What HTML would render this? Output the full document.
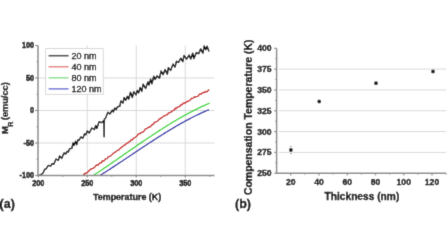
<!DOCTYPE html>
<html><head><meta charset="utf-8"><style>
html,body{margin:0;padding:0;background:#fff;}
body{width:448px;height:252px;overflow:hidden;}
svg{display:block;}
text{font-family:'Liberation Sans', Arial, sans-serif;fill:#000;}
.tk{font-size:7.3px;font-weight:bold;stroke:#000;stroke-width:0.35px;}
.tk2{font-size:8.6px;font-weight:bold;stroke:#000;stroke-width:0.3px;}
.lg{font-size:9px;stroke:#000;stroke-width:0.3px;}
.al{font-size:9.2px;font-weight:bold;stroke:#000;stroke-width:0.35px;}
.al2{font-size:10.2px;font-weight:bold;stroke:#000;stroke-width:0.3px;}
.yl{font-size:9.4px;font-weight:bold;stroke:#000;stroke-width:0.3px;}
.pl{font-size:12.5px;font-weight:bold;stroke:#000;stroke-width:0.3px;}
</style></head><body>
<svg width="448" height="252" viewBox="0 0 448 252">
<defs><filter id="soft" x="0" y="0" width="448" height="252" filterUnits="userSpaceOnUse"><feConvolveMatrix order="3" kernelMatrix="0.0113 0.0838 0.0113 0.0838 0.6193 0.0838 0.0113 0.0838 0.0113" edgeMode="duplicate"/></filter></defs>
<rect width="448" height="252" fill="#fff"/>
<g filter="url(#soft)">
<rect width="448" height="252" fill="#fff"/>
<line x1="87.25" y1="45.5" x2="87.25" y2="175.5" stroke="#d9d9d9" stroke-width="1"/>
<line x1="136.25" y1="45.5" x2="136.25" y2="175.5" stroke="#d9d9d9" stroke-width="1"/>
<line x1="185.25" y1="45.5" x2="185.25" y2="175.5" stroke="#d9d9d9" stroke-width="1"/>
<line x1="38" y1="78.00" x2="214.5" y2="78.00" stroke="#d9d9d9" stroke-width="1"/>
<line x1="38" y1="110.50" x2="214.5" y2="110.50" stroke="#d9d9d9" stroke-width="1"/>
<line x1="38" y1="143.00" x2="214.5" y2="143.00" stroke="#d9d9d9" stroke-width="1"/>
<polyline points="100.0,175.4 101.0,174.8 102.0,174.2 103.0,173.5 104.0,172.9 105.0,172.3 106.0,171.6 107.0,171.0 108.0,170.3 109.0,169.7 110.0,169.1 111.0,168.4 112.0,167.8 113.0,167.1 114.0,166.4 115.0,165.8 116.0,165.1 117.0,164.5 118.0,163.8 119.0,163.1 120.0,162.5 121.0,161.8 122.0,161.2 123.0,160.5 124.0,159.8 125.0,159.2 126.0,158.5 127.0,157.8 128.0,157.2 129.0,156.5 130.0,155.8 131.0,155.2 132.0,154.5 133.0,153.8 134.0,153.1 135.0,152.5 136.0,151.8 137.0,151.1 138.0,150.5 139.0,149.8 140.0,149.1 141.0,148.5 142.0,147.8 143.0,147.1 144.0,146.5 145.0,145.8 146.0,145.2 147.0,144.5 148.0,143.8 149.0,143.2 150.0,142.5 151.0,141.9 152.0,141.2 153.0,140.6 154.0,139.9 155.0,139.3 156.0,138.6 157.0,138.0 158.0,137.4 159.0,136.7 160.0,136.1 161.0,135.5 162.0,134.8 163.0,134.2 164.0,133.6 165.0,132.9 166.0,132.3 167.0,131.7 168.0,131.1 169.0,130.5 170.0,129.9 171.0,129.3 172.0,128.7 173.0,128.1 174.0,127.5 175.0,126.9 176.0,126.3 177.0,125.7 178.0,125.2 179.0,124.6 180.0,124.0 181.0,123.4 182.0,122.9 183.0,122.3 184.0,121.8 185.0,121.2 186.0,120.7 187.0,120.1 188.0,119.6 189.0,119.1 190.0,118.6 191.0,118.0 192.0,117.5 193.0,117.0 194.0,116.5 195.0,116.0 196.0,115.5 197.0,115.0 198.0,114.6 199.0,114.1 200.0,113.6 201.0,113.1 202.0,112.7 203.0,112.2 204.0,111.8 205.0,111.3 206.0,110.9 207.0,110.5 208.0,110.1 209.0,109.7" fill="none" stroke="#1c1ca8" stroke-width="1.3" stroke-linejoin="round"/>
<polyline points="93.6,175.4 94.6,174.7 95.6,174.0 96.6,173.4 97.6,172.7 98.6,172.0 99.6,171.3 100.6,170.7 101.6,170.0 102.6,169.3 103.6,168.6 104.6,167.9 105.6,167.2 106.6,166.6 107.6,165.9 108.6,165.2 109.6,164.5 110.6,163.8 111.6,163.1 112.6,162.4 113.6,161.7 114.6,161.0 115.6,160.4 116.6,159.7 117.6,159.0 118.6,158.3 119.6,157.6 120.6,156.9 121.6,156.2 122.6,155.5 123.6,154.8 124.6,154.1 125.6,153.4 126.6,152.7 127.6,152.0 128.6,151.3 129.6,150.6 130.6,149.9 131.6,149.3 132.6,148.6 133.6,147.9 134.6,147.2 135.6,146.5 136.6,145.8 137.6,145.1 138.6,144.4 139.6,143.8 140.6,143.1 141.6,142.4 142.6,141.7 143.6,141.0 144.6,140.4 145.6,139.7 146.6,139.0 147.6,138.3 148.6,137.7 149.6,137.0 150.6,136.3 151.6,135.7 152.6,135.0 153.6,134.4 154.6,133.7 155.6,133.0 156.6,132.4 157.6,131.7 158.6,131.1 159.6,130.4 160.6,129.8 161.6,129.2 162.6,128.5 163.6,127.9 164.6,127.3 165.6,126.6 166.6,126.0 167.6,125.4 168.6,124.8 169.6,124.2 170.6,123.5 171.6,122.9 172.6,122.3 173.6,121.7 174.6,121.1 175.6,120.5 176.6,120.0 177.6,119.4 178.6,118.8 179.6,118.2 180.6,117.6 181.6,117.1 182.6,116.5 183.6,115.9 184.6,115.4 185.6,114.8 186.6,114.3 187.6,113.8 188.6,113.2 189.6,112.7 190.6,112.2 191.6,111.6 192.6,111.1 193.6,110.6 194.6,110.1 195.6,109.6 196.6,109.1 197.6,108.6 198.6,108.1 199.6,107.6 200.6,107.2 201.6,106.7 202.6,106.2 203.6,105.8 204.6,105.3 205.6,104.9 206.6,104.4 207.6,104.0 208.6,103.6 209.6,103.2" fill="none" stroke="#22d422" stroke-width="1.3" stroke-linejoin="round"/>
<polyline points="83.3,174.0 84.3,174.4 85.3,173.2 86.3,173.0 87.3,172.6 88.3,171.4 89.3,170.6 90.3,169.4 91.3,169.0 92.3,168.6 93.3,168.2 94.3,167.6 95.3,166.3 96.3,165.2 97.3,164.8 98.3,165.0 99.3,163.3 100.3,162.9 101.3,162.9 102.3,160.9 103.3,161.0 104.3,160.7 105.3,159.0 106.3,158.7 107.3,158.5 108.3,156.7 109.3,156.5 110.3,156.1 111.3,155.2 112.3,154.2 113.3,153.1 114.3,152.8 115.3,151.9 116.3,151.3 117.3,150.4 118.3,150.3 119.3,149.4 120.3,148.1 121.3,147.7 122.3,146.5 123.3,146.0 124.3,145.1 125.3,144.8 126.3,143.6 127.3,143.0 128.3,142.6 129.3,141.4 130.3,141.4 131.3,139.6 132.3,139.7 133.3,138.5 134.3,137.7 135.3,137.3 136.3,136.4 137.3,135.5 138.3,134.1 139.3,133.5 140.3,133.6 141.3,132.6 142.3,132.1 143.3,131.8 144.3,130.6 145.3,129.0 146.3,128.6 147.3,128.3 148.3,127.1 149.3,127.4 150.3,126.6 151.3,125.7 152.3,124.5 153.3,124.3 154.3,122.6 155.3,122.1 156.3,121.6 157.3,121.3 158.3,120.2 159.3,119.0 160.3,118.6 161.3,117.9 162.3,117.2 163.3,116.3 164.3,115.9 165.3,115.3 166.3,115.1 167.3,114.4 168.3,113.4 169.3,112.6 170.3,112.4 171.3,111.9 172.3,110.9 173.3,110.4 174.3,110.0 175.3,108.1 176.3,108.6 177.3,107.1 178.3,106.8 179.3,106.6 180.3,105.9 181.3,104.5 182.3,104.6 183.3,103.2 184.3,103.0 185.3,103.0 186.3,101.9 187.3,101.5 188.3,101.1 189.3,100.7 190.3,100.0 191.3,98.4 192.3,98.5 193.3,98.0 194.3,96.9 195.3,97.0 196.3,96.6 197.3,96.4 198.3,96.0 199.3,94.4 200.3,94.0 201.3,94.1 202.3,92.9 203.3,92.5 204.3,92.6 205.3,91.5 206.3,91.9 207.3,91.6 208.3,90.0 209.3,90.3" fill="none" stroke="#c81010" stroke-width="1.35" stroke-linejoin="round"/>
<polyline points="38.4,175.5 40.7,174.9 43.2,172.8 44.7,169.3 45.9,169.1 48.3,165.4 50.8,166.0 52.1,163.7 53.8,164.3 56.0,159.0 58.3,160.4 59.6,155.9 61.7,158.4 64.0,153.0 65.8,154.0 67.1,151.3 68.2,152.1 69.6,148.8 71.9,148.3 73.0,143.0 74.0,145.5 75.6,141.3 76.7,144.7 77.9,139.8 78.9,140.4 80.8,137.0 82.9,138.2 84.6,133.8 85.8,134.8 87.3,130.9 89.3,133.0 91.8,128.0 94.4,129.6 95.7,125.4 96.8,128.4 99.1,121.7 101.6,122.7 103.9,120.5 104.1,136.8 104.4,119.0 105.5,118.3 107.9,112.3 109.9,114.0 112.3,110.2 113.3,112.0 114.8,108.1 116.2,109.6 117.4,107.0 119.9,106.0 120.9,100.9 123.0,103.0 124.1,97.6 125.7,100.3 127.4,96.3 128.6,99.3 130.5,92.2 132.3,97.6 133.8,91.6 136.0,94.9 137.3,90.5 138.6,92.9 140.1,87.6 141.8,91.4 143.1,84.2 145.6,88.5 147.9,82.0 149.1,85.1 150.6,79.1 152.0,83.7 153.7,76.3 155.2,79.4 157.0,75.9 159.5,78.2 161.1,71.0 163.1,74.7 165.1,69.6 167.3,74.3 168.4,67.6 170.6,70.4 173.1,64.1 175.0,67.1 176.5,61.3 178.6,62.4 180.7,58.2 182.8,61.7 184.0,55.4 186.6,59.2 189.1,55.1 190.8,58.9 192.7,53.2 193.8,58.6 196.4,52.6 198.7,53.7 200.7,48.9 202.9,53.2 204.2,46.0 205.7,49.6 207.1,46.2 209.0,51.5" fill="none" stroke="#000" stroke-width="1.45" stroke-linejoin="round"/>
<line x1="38" y1="45.5" x2="38" y2="176" stroke="#8a8a8a" stroke-width="1.5"/>
<line x1="37.5" y1="175.5" x2="214.5" y2="175.5" stroke="#8a8a8a" stroke-width="1.5"/>
<line x1="35.2" y1="45.50" x2="38" y2="45.50" stroke="#8a8a8a" stroke-width="1.2"/>
<text transform="translate(34.1,48.30) scale(1,1.2)" text-anchor="end" class="tk">100</text>
<line x1="35.2" y1="78.00" x2="38" y2="78.00" stroke="#8a8a8a" stroke-width="1.2"/>
<text transform="translate(34.1,80.80) scale(1,1.2)" text-anchor="end" class="tk">50</text>
<line x1="35.2" y1="110.50" x2="38" y2="110.50" stroke="#8a8a8a" stroke-width="1.2"/>
<text transform="translate(34.1,113.30) scale(1,1.2)" text-anchor="end" class="tk">0</text>
<line x1="35.2" y1="143.00" x2="38" y2="143.00" stroke="#8a8a8a" stroke-width="1.2"/>
<text transform="translate(34.1,145.80) scale(1,1.2)" text-anchor="end" class="tk">-50</text>
<line x1="35.2" y1="175.50" x2="38" y2="175.50" stroke="#8a8a8a" stroke-width="1.2"/>
<text transform="translate(34.1,178.30) scale(1,1.2)" text-anchor="end" class="tk">-100</text>
<line x1="36.6" y1="61.75" x2="38" y2="61.75" stroke="#8a8a8a" stroke-width="1"/>
<line x1="36.6" y1="94.25" x2="38" y2="94.25" stroke="#8a8a8a" stroke-width="1"/>
<line x1="36.6" y1="126.75" x2="38" y2="126.75" stroke="#8a8a8a" stroke-width="1"/>
<line x1="36.6" y1="159.25" x2="38" y2="159.25" stroke="#8a8a8a" stroke-width="1"/>
<line x1="38.25" y1="175.5" x2="38.25" y2="177.6" stroke="#8a8a8a" stroke-width="1.2"/>
<text transform="translate(38.25,185.6) scale(1,1.2)" text-anchor="middle" class="tk">200</text>
<line x1="87.25" y1="175.5" x2="87.25" y2="177.6" stroke="#8a8a8a" stroke-width="1.2"/>
<text transform="translate(87.25,185.6) scale(1,1.2)" text-anchor="middle" class="tk">250</text>
<line x1="136.25" y1="175.5" x2="136.25" y2="177.6" stroke="#8a8a8a" stroke-width="1.2"/>
<text transform="translate(136.25,185.6) scale(1,1.2)" text-anchor="middle" class="tk">300</text>
<line x1="185.25" y1="175.5" x2="185.25" y2="177.6" stroke="#8a8a8a" stroke-width="1.2"/>
<text transform="translate(185.25,185.6) scale(1,1.2)" text-anchor="middle" class="tk">350</text>
<line x1="62.75" y1="175.5" x2="62.75" y2="176.8" stroke="#8a8a8a" stroke-width="1"/>
<line x1="111.75" y1="175.5" x2="111.75" y2="176.8" stroke="#8a8a8a" stroke-width="1"/>
<line x1="160.75" y1="175.5" x2="160.75" y2="176.8" stroke="#8a8a8a" stroke-width="1"/>
<line x1="209.75" y1="175.5" x2="209.75" y2="176.8" stroke="#8a8a8a" stroke-width="1"/>
<rect x="45.7" y="48.6" width="57.5" height="45.7" fill="#fff" stroke="#d0d0d0" stroke-width="0.8"/>
<line x1="48.6" y1="55.70" x2="68.6" y2="55.70" stroke="#444" stroke-width="1.6"/>
<text x="71.4" y="58.80" class="lg">20 nm</text>
<line x1="48.6" y1="66.75" x2="68.6" y2="66.75" stroke="#e58a8a" stroke-width="1.6"/>
<text x="71.4" y="69.85" class="lg">40 nm</text>
<line x1="48.6" y1="77.80" x2="68.6" y2="77.80" stroke="#96e296" stroke-width="1.6"/>
<text x="71.4" y="80.90" class="lg">80 nm</text>
<line x1="48.6" y1="88.85" x2="68.6" y2="88.85" stroke="#7c7cdc" stroke-width="1.6"/>
<text x="71.4" y="91.95" class="lg">120 nm</text>
<text x="93" y="200.1" class="al" textLength="68.2" lengthAdjust="spacingAndGlyphs">Temperature (K)</text>
<text transform="translate(7.9,134.1) rotate(-90)" class="yl">M<tspan dx="-0.4" dy="5.4" font-size="7px">R</tspan><tspan dx="-1.0" dy="-5.4" font-size="9.2px"> (emu/cc)</tspan></text>
<text x="-0.4" y="208.2" class="pl">(a)</text>
<line x1="279" y1="152.43" x2="446" y2="152.43" stroke="#d9d9d9" stroke-width="1"/>
<line x1="279" y1="131.60" x2="446" y2="131.60" stroke="#d9d9d9" stroke-width="1"/>
<line x1="279" y1="110.77" x2="446" y2="110.77" stroke="#d9d9d9" stroke-width="1"/>
<line x1="279" y1="89.95" x2="446" y2="89.95" stroke="#d9d9d9" stroke-width="1"/>
<line x1="279" y1="69.12" x2="446" y2="69.12" stroke="#d9d9d9" stroke-width="1"/>
<line x1="276.6" y1="48.3" x2="276.6" y2="173.7" stroke="#8a8a8a" stroke-width="1.5"/>
<line x1="276.1" y1="173.25" x2="446" y2="173.25" stroke="#8a8a8a" stroke-width="1.5"/>
<line x1="274.2" y1="173.25" x2="276.6" y2="173.25" stroke="#8a8a8a" stroke-width="1.2"/>
<text x="271.6" y="176.15" text-anchor="end" class="tk2">250</text>
<line x1="274.2" y1="152.43" x2="276.6" y2="152.43" stroke="#8a8a8a" stroke-width="1.2"/>
<text x="271.6" y="155.33" text-anchor="end" class="tk2">275</text>
<line x1="274.2" y1="131.60" x2="276.6" y2="131.60" stroke="#8a8a8a" stroke-width="1.2"/>
<text x="271.6" y="134.50" text-anchor="end" class="tk2">300</text>
<line x1="274.2" y1="110.77" x2="276.6" y2="110.77" stroke="#8a8a8a" stroke-width="1.2"/>
<text x="271.6" y="113.67" text-anchor="end" class="tk2">325</text>
<line x1="274.2" y1="89.95" x2="276.6" y2="89.95" stroke="#8a8a8a" stroke-width="1.2"/>
<text x="271.6" y="92.85" text-anchor="end" class="tk2">350</text>
<line x1="274.2" y1="69.12" x2="276.6" y2="69.12" stroke="#8a8a8a" stroke-width="1.2"/>
<text x="271.6" y="72.03" text-anchor="end" class="tk2">375</text>
<line x1="274.2" y1="48.30" x2="276.6" y2="48.30" stroke="#8a8a8a" stroke-width="1.2"/>
<text x="271.6" y="51.20" text-anchor="end" class="tk2">400</text>
<line x1="275.2" y1="162.84" x2="276.6" y2="162.84" stroke="#8a8a8a" stroke-width="1"/>
<line x1="275.2" y1="142.01" x2="276.6" y2="142.01" stroke="#8a8a8a" stroke-width="1"/>
<line x1="275.2" y1="121.19" x2="276.6" y2="121.19" stroke="#8a8a8a" stroke-width="1"/>
<line x1="275.2" y1="100.36" x2="276.6" y2="100.36" stroke="#8a8a8a" stroke-width="1"/>
<line x1="275.2" y1="79.54" x2="276.6" y2="79.54" stroke="#8a8a8a" stroke-width="1"/>
<line x1="275.2" y1="58.71" x2="276.6" y2="58.71" stroke="#8a8a8a" stroke-width="1"/>
<line x1="290.75" y1="173.25" x2="290.75" y2="175.4" stroke="#8a8a8a" stroke-width="1.2"/>
<text x="290.75" y="184.5" text-anchor="middle" class="tk2">20</text>
<line x1="319.00" y1="173.25" x2="319.00" y2="175.4" stroke="#8a8a8a" stroke-width="1.2"/>
<text x="319.00" y="184.5" text-anchor="middle" class="tk2">40</text>
<line x1="347.25" y1="173.25" x2="347.25" y2="175.4" stroke="#8a8a8a" stroke-width="1.2"/>
<text x="347.25" y="184.5" text-anchor="middle" class="tk2">60</text>
<line x1="375.50" y1="173.25" x2="375.50" y2="175.4" stroke="#8a8a8a" stroke-width="1.2"/>
<text x="375.50" y="184.5" text-anchor="middle" class="tk2">80</text>
<line x1="403.75" y1="173.25" x2="403.75" y2="175.4" stroke="#8a8a8a" stroke-width="1.2"/>
<text x="403.75" y="184.5" text-anchor="middle" class="tk2">100</text>
<line x1="432.00" y1="173.25" x2="432.00" y2="175.4" stroke="#8a8a8a" stroke-width="1.2"/>
<text x="432.00" y="184.5" text-anchor="middle" class="tk2">120</text>
<line x1="304.88" y1="173.25" x2="304.88" y2="174.6" stroke="#8a8a8a" stroke-width="1"/>
<line x1="333.12" y1="173.25" x2="333.12" y2="174.6" stroke="#8a8a8a" stroke-width="1"/>
<line x1="361.38" y1="173.25" x2="361.38" y2="174.6" stroke="#8a8a8a" stroke-width="1"/>
<line x1="389.62" y1="173.25" x2="389.62" y2="174.6" stroke="#8a8a8a" stroke-width="1"/>
<line x1="417.88" y1="173.25" x2="417.88" y2="174.6" stroke="#8a8a8a" stroke-width="1"/>
<line x1="446.12" y1="173.25" x2="446.12" y2="174.6" stroke="#8a8a8a" stroke-width="1"/>
<rect x="289.2" y="151.6" width="3.4" height="1.6" fill="#fff"/>
<line x1="290.9" y1="146.6" x2="290.9" y2="153.4" stroke="#ccc" stroke-width="0.6"/>
<line x1="289.8" y1="146.4" x2="292" y2="146.4" stroke="#aaa" stroke-width="0.9"/>
<line x1="289.8" y1="153.4" x2="292" y2="153.4" stroke="#999" stroke-width="0.9"/>
<rect x="289.3" y="148.2" width="3.2" height="3.5" rx="0.8" fill="#000"/>
<rect x="317.6" y="99.7" width="3.2" height="3.5" rx="0.8" fill="#000"/>
<rect x="374.4" y="81.5" width="3.2" height="3.5" rx="0.8" fill="#000"/>
<rect x="431.4" y="69.8" width="3.2" height="3.5" rx="0.8" fill="#000"/>
<text x="324.5" y="200.4" class="al2" textLength="74.8" lengthAdjust="spacingAndGlyphs">Thickness (nm)</text>
<text transform="translate(252.2,195.1) rotate(-90)" class="al2" textLength="155.6" lengthAdjust="spacingAndGlyphs">Compensation Temperature (K)</text>
<text x="235" y="208.2" class="pl">(b)</text>
</g>
</svg>
</body></html>
